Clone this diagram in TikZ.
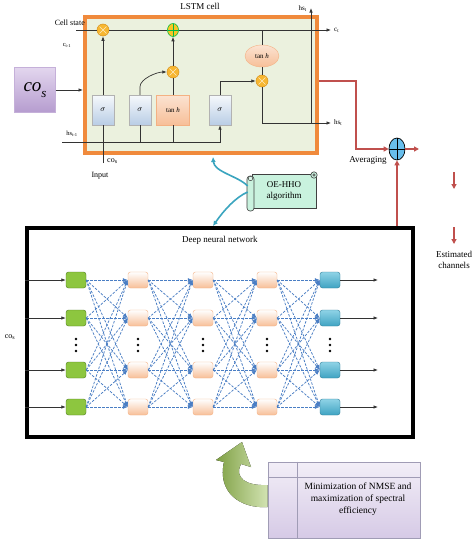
\documentclass[tikz,border=0pt]{standalone}
\usepackage{fontspec}
\setmainfont{Liberation Serif}
\usetikzlibrary{arrows.meta,shapes.geometric,calc}
\definecolor{lstmfill}{HTML}{EBF1DE}
\definecolor{lstmedge}{HTML}{F08A3C}
\definecolor{sigtop}{HTML}{F6F9FC}
\definecolor{sigbot}{HTML}{B9CDE5}
\definecolor{peachtop}{HTML}{FBE3D2}
\definecolor{peach}{HTML}{F7BF98}
\definecolor{peachedge}{HTML}{F4B183}
\definecolor{mulfill}{HTML}{F7B731}
\definecolor{muledge}{HTML}{D9921A}
\definecolor{redline}{HTML}{C0504D}
\definecolor{tealarr}{HTML}{3BA5BF}
\definecolor{mint}{HTML}{C9F2DE}
\definecolor{dnnblue}{HTML}{4A7EC4}
\definecolor{greennode}{HTML}{8DC63F}
\definecolor{greenedge}{HTML}{4E7A1E}
\definecolor{bluetop}{HTML}{8FD3E6}
\definecolor{bluenode}{HTML}{3FA3C2}
\definecolor{blueedge}{HTML}{2F7F9A}
\definecolor{purpletop}{HTML}{E2D6EE}
\definecolor{purplebot}{HTML}{B69CCF}
\definecolor{lavtop}{HTML}{F2EEF7}
\definecolor{lavbot}{HTML}{D6CAE6}
\definecolor{lavedge}{HTML}{A09CB5}
\definecolor{arrdark}{HTML}{7FA044}
\definecolor{arrlight}{HTML}{D2E3B2}
\newcommand{\mysb}[2]{#1\textsubscript{#2}}
\begin{document}
\begin{tikzpicture}[x=1pt,y=-1pt,
  ln/.style={draw=black!80, line width=0.7pt},
  arr/.style={-{Latex[length=4.5pt,width=3.5pt]}},
  lbl/.style={inner sep=0pt, font=\fontsize{8}{9}\selectfont},
  sig/.style={draw=black!30, top color=sigtop, bottom color=sigbot, minimum width=22pt, minimum height=30pt, inner sep=0pt, font=\fontsize{8}{8}\selectfont},
  tanhbox/.style={draw=peachedge, top color=peachtop, bottom color=peach, minimum width=33pt, minimum height=30pt, inner sep=0pt, font=\fontsize{7}{7}\selectfont},
  mul/.style={circle, fill=mulfill, draw=muledge, line width=0.5pt, minimum size=12pt, inner sep=0pt,
    path picture={\draw[white!70!mulfill, line width=0.6pt]
      ($(path picture bounding box.center)+(-3.5,-3.5)$) -- ($(path picture bounding box.center)+(3.5,3.5)$)
      ($(path picture bounding box.center)+(-3.5,3.5)$) -- ($(path picture bounding box.center)+(3.5,-3.5)$);}},
  plusc/.style={ellipse, fill=mulfill!80!yellow, draw=green!50!teal, line width=0.6pt, minimum width=11pt, minimum height=13pt, inner sep=0pt,
    path picture={\draw[green!45!teal, line width=0.6pt]
      ($(path picture bounding box.center)+(0,-7)$) -- ($(path picture bounding box.center)+(0,7)$)
      ($(path picture bounding box.center)+(-7,0)$) -- ($(path picture bounding box.center)+(7,0)$);}},
  redln/.style={draw=redline, line width=1.4pt},
  redarr/.style={-{Triangle[length=5pt,width=5pt]}},
  tealln/.style={draw=tealarr, line width=1.6pt, -{Latex[length=5pt,width=5pt]}},
  gnode/.style={draw=greenedge, fill=greennode, rounded corners=2.5pt, minimum width=20pt, minimum height=16pt, inner sep=0pt},
  onode/.style={draw=peachedge, top color=white, bottom color=peach, rounded corners=2.5pt, minimum width=20pt, minimum height=16pt, inner sep=0pt},
  bnode/.style={draw=blueedge, top color=bluetop, bottom color=bluenode, rounded corners=2.5pt, minimum width=20pt, minimum height=16pt, inner sep=0pt},
  dnnedge/.style={draw=dnnblue, dash pattern=on 2.5pt off 1.5pt, line width=0.75pt, -{Latex[length=5pt,width=4pt]}},
]
\useasboundingbox (0,0) rectangle (474,541);
\fill[white] (0,0) rectangle (474,541);

% ---------------- LSTM cell ----------------
\node[draw=lstmedge, fill=lstmfill, line width=4pt, minimum width=232pt, minimum height=136pt, inner sep=0pt] (lstm) at (201,85) {};
\node[lbl, font=\fontsize{9}{10}\selectfont] (lstmlbl) at (200,6) {LSTM cell};

\node[sig] (s1) at (103,110) {$\sigma$};
\node[sig] (s2) at (140,110) {$\sigma$};
\node[tanhbox] (tb) at (173,110) {tan \textit{h}};
\node[sig] (s4) at (220,110) {$\sigma$};

\node[mul] (c1) at (103,30) {};
\node[plusc] (pl) at (173,30) {};
\node[mul] (c2) at (173,72) {};
\node[mul] (c3) at (262,81) {};
\node[ellipse, draw=peachedge, top color=peachtop, bottom color=peach, minimum width=34pt, minimum height=22pt, inner sep=0pt, font=\fontsize{7}{7}\selectfont] (te) at (262,56) {tan \textit{h}};

\coordinate (csin) at (76,30);
\coordinate (csout) at (331,30);
\coordinate (hsin) at (62,142);
\coordinate (inp) at (103,163);
\coordinate (hsj) at (311,123);
\coordinate (hsout) at (331,123);
\coordinate (hstop) at (311,8);

\draw[ln] (csin) -- (c1.west);
\draw[ln] (c1.east) -- (pl.west);
\draw[ln,arr] (pl.east) -- (csout);
\draw[ln] (te.north) -- (te.north |- csin);
\draw[ln] (te.south) -- (c3.north);
\draw[ln,arr] (c3.south) |- (hsout);
\draw[ln,arr] (hsj) -- (hstop);
\draw[ln] (inp) -- (s1.south);
\draw[ln,arr] (s1.north) -- (c1.south);
\draw[ln,arr] (s2.north) -- ++(0,-8) .. controls +(0,-8) and +(-10,0) .. (c2.west);
\draw[ln] (tb.north) -- (c2.south);
\draw[ln,arr] (c2.north) -- (pl.south);
\draw[ln,arr] (s4.north) |- (c3.west);
\draw[ln,arr] (hsin) -| (s4.south);
\draw[ln] (s2.south) -- (s2.south |- hsin);
\draw[ln] (tb.south) -- (tb.south |- hsin);

\node[lbl, anchor=east] (cslbl) at (85,23) {Cell state};
\node[lbl, font=\fontsize{6.5}{7}\selectfont] (ctm1) at (67,45) {\mysb{c}{t-1}};
\node[lbl, font=\fontsize{6.5}{7}\selectfont] (hstm1) at (72,134) {\mysb{hs}{t-1}};
\node[lbl, anchor=west] (coslbl) at (107,161) {\mysb{co}{s}};
\node[lbl] (inputlbl) at (100,176) {Input};
\node[lbl, anchor=east, font=\fontsize{7}{8}\selectfont] (hstlbl1) at (307,9) {\mysb{hs}{t}};
\node[lbl, anchor=west, font=\fontsize{7}{8}\selectfont] (ctlbl) at (334,30) {\mysb{c}{t}};
\node[lbl, anchor=west, font=\fontsize{7}{8}\selectfont] (hstlbl2) at (334,123) {\mysb{hs}{t}};

% co_s input box
\node[top color=purpletop, bottom color=purplebot, draw=purplebot!80, minimum width=41pt, minimum height=45pt, inner sep=0pt, font=\fontsize{19}{19}\selectfont\itshape] (cos) at (35,90) {co\raisebox{-0.35em}{\fontsize{13}{13}\selectfont s}};
\draw[ln,arr] (cos.east) -- (cos.east -| lstm.west);

% ---------------- averaging ----------------
\node[ellipse, draw=black, fill=cyan!85!blue!60!white, line width=0.7pt, minimum width=16pt, minimum height=22pt, inner sep=0pt,
  path picture={\draw[black, line width=0.6pt] (path picture bounding box.north) -- (path picture bounding box.south) (path picture bounding box.west) -- (path picture bounding box.east);}] (avg) at (397,149) {};
\draw[redln,redarr] (lstm.east |- c3) -- ++(37,0) |- (avg.west);
\coordinate (avgout) at (419,149);
\draw[redln,redarr] (avg.east) -- (avgout);
\node[lbl, font=\fontsize{9}{10}\selectfont] (avglbl) at (368,160) {Averaging};

% estimated channels
\coordinate (e1a) at (454,172);
\coordinate (e1b) at (454,189);
\coordinate (e2a) at (454,227);
\coordinate (e2b) at (454,244);
\draw[redln,redarr] (e1a) -- (e1b);
\draw[redln,redarr] (e2a) -- (e2b);
\node[lbl, align=center, font=\fontsize{9}{11}\selectfont] (estlbl) at (454,260) {Estimated\\channels};

% ---------------- OE-HHO scroll ----------------
\node[draw=black!75, fill=mint, line width=0.6pt, minimum width=64pt, minimum height=34pt, inner sep=0pt, align=center, font=\fontsize{9}{11}\selectfont] (scroll) at (284,191) {OE-HHO\\algorithm};
\filldraw[fill=mint, draw=black!75, line width=0.6pt, rounded corners=3pt] (247,176) rectangle (254,211);
\filldraw[fill=mint!60!white, draw=black!75, line width=0.5pt] (250.5,178.5) circle (2.2);
\filldraw[fill=mint, draw=black!75, line width=0.6pt] (314,175) circle (3.2);
\filldraw[fill=mint!60!white, draw=black!75, line width=0.5pt] (314,175) circle (1.3);

\coordinate (tA) at (213,157);
\coordinate (tB) at (213,226);
\draw[tealln] ($(scroll.west)+(-4,-5)$) .. controls (238,176) and (214,172) .. (tA);
\draw[tealln] ($(scroll.west)+(-4,1)$) .. controls (236,197) and (224,210) .. (tB);

% ---------------- DNN ----------------
\node[draw=black, line width=4pt, minimum width=386pt, minimum height=209pt, inner sep=0pt] (dnn) at (220,332.5) {};
\node[lbl, anchor=west, font=\fontsize{9}{10}\selectfont] (dnnlbl) at (182,240) {Deep neural network};
\draw[redln,redarr] (dnn.north -| avg) -- (avg.south);

\foreach \r/\y in {1/280,2/318,3/370,4/407}{
  \node[gnode] (n0\r) at (76,\y) {};
  \node[onode] (n1\r) at (138,\y) {};
  \node[onode] (n2\r) at (203,\y) {};
  \node[onode] (n3\r) at (267,\y) {};
  \node[bnode] (n4\r) at (330,\y) {};
  \coordinate (out\r) at (378,\y);
}
\foreach \c [evaluate=\c as \d using int(\c+1)] in {0,1,2,3}{
  \foreach \i in {1,2,3,4}{
    \foreach \j in {1,2,3,4}{
      \draw[dnnedge] (n\c\i.east) -- (n\d\j.west);
    }
  }
}
\foreach \r in {1,2,3,4}{
  \draw[ln,arr] (dnn.west |- n0\r) -- (n0\r.west);
  \draw[ln,arr] (n4\r.east) -- (out\r);
}
\foreach \x in {76,138,203,267,330}{
  \fill[black] (\x,339) circle (1.3) (\x,345) circle (1.3) (\x,351) circle (1.3);
}
\node[lbl, font=\fontsize{8}{9}\selectfont] (cos2) at (10,337) {\mysb{co}{s}};

% ---------------- objective ----------------
\node[draw=lavedge, top color=lavtop, bottom color=lavbot, line width=0.7pt, minimum width=152pt, minimum height=76pt, inner sep=0pt] (obj) at (344,500) {};
\draw[draw=lavedge, line width=0.7pt] (obj.west |- 0,477) -- (obj.east |- 0,477);
\draw[draw=lavedge, line width=0.7pt] (297,0 |- obj.north) -- (297,0 |- obj.south);
\node[lbl, align=center, font=\fontsize{9.5}{12}\selectfont] (objtxt) at (358,499) {Minimization of NMSE and\\maximization of spectral\\efficiency};

\fill[left color=arrdark, right color=arrlight] (obj.west |- 0,507) .. controls (240,509) and (217,492) .. (224,462) -- (216,460) -- (242,442) -- (251,467) -- (241,464) .. controls (234,478) and (246,486) .. (obj.west |- 0,485) -- cycle;
\end{tikzpicture}
\end{document}
